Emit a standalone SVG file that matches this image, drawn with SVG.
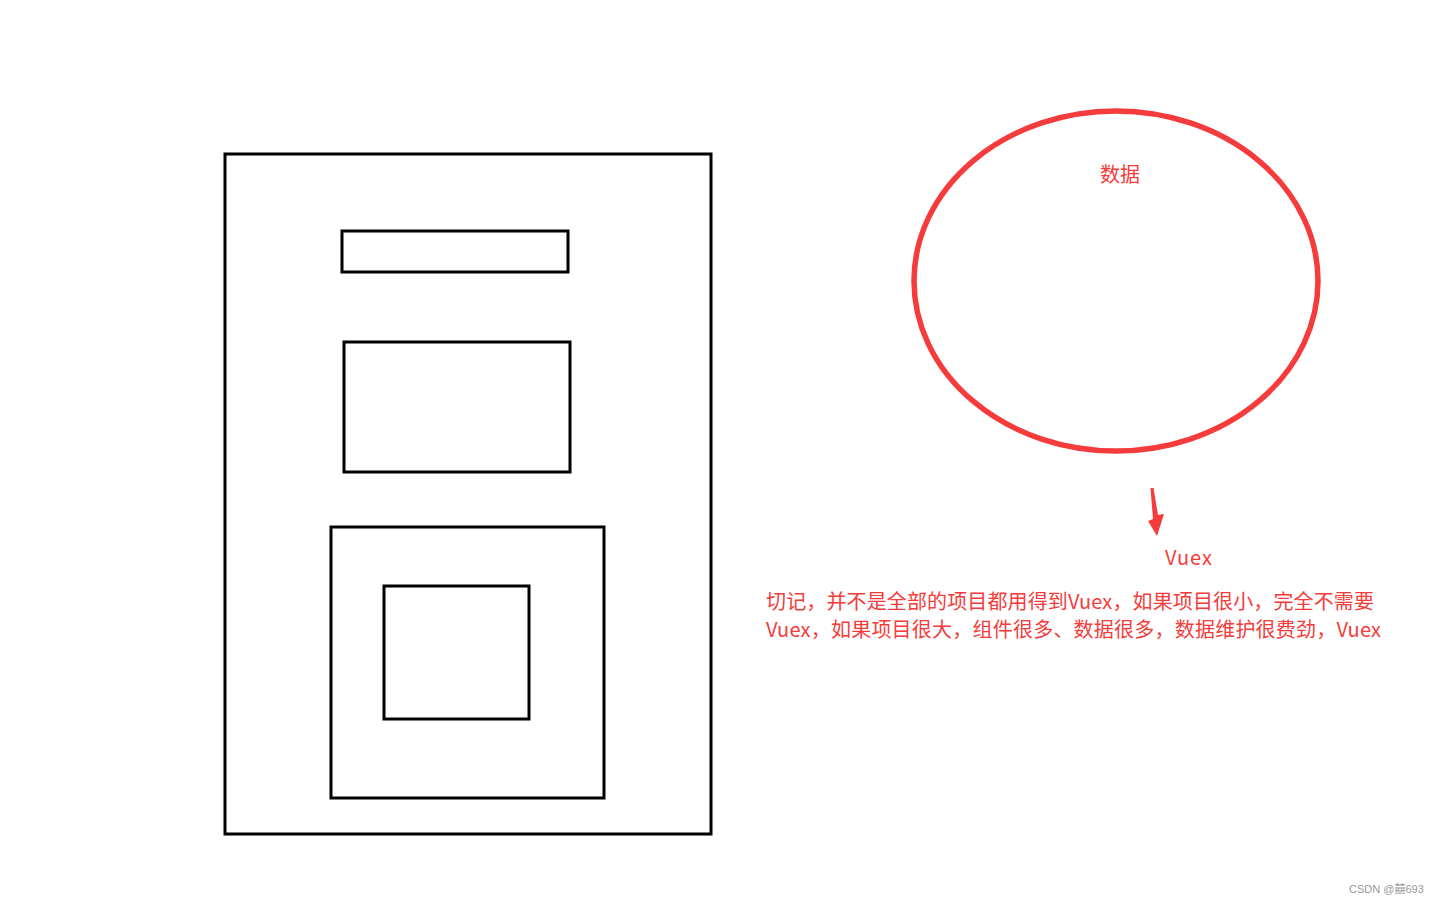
<svg xmlns="http://www.w3.org/2000/svg" width="1441" height="905" viewBox="0 0 1441 905">
<style>
.box{fill:none;stroke:#000;stroke-width:3}
.red{fill:#f53b3b;font-family:"Microsoft YaHei","Noto Sans CJK SC",sans-serif;font-size:20px}
.wm{fill:#999;font-family:"Liberation Sans","Noto Sans CJK SC",sans-serif;font-size:11px}
</style>
<rect width="1441" height="905" fill="#fff"/>
<g id="page"><rect class="box" x="225" y="154" width="486" height="680"/></g>
<g id="box1"><rect class="box" x="342" y="231" width="226" height="41"/></g>
<g id="box2"><rect class="box" x="344" y="342" width="226" height="130"/></g>
<g id="box3"><rect class="box" x="331" y="527" width="273" height="271"/></g>
<g id="box4"><rect class="box" x="384" y="586" width="145" height="133"/></g>
<g id="data">
<ellipse cx="1116" cy="281" rx="202" ry="170" fill="none" stroke="#f53b3b" stroke-width="5.5"/>
<text class="red" x="1120" y="182" text-anchor="middle">数据</text>
</g>
<g id="connectors">
<polygon points="1150.5,488 1153.5,488 1158,515 1164,514 1157,536 1148,521 1153,519" fill="#f53b3b"/>
</g>
<g id="vuex"><text class="red" x="1165" y="565" textLength="47" lengthAdjust="spacing">Vuex</text></g>
<g id="note">
<text class="red" x="766" y="609" textLength="608" lengthAdjust="spacing">切记，并不是全部的项目都用得到Vuex，如果项目很小，完全不需要</text>
<text class="red" x="766" y="637" textLength="615" lengthAdjust="spacing">Vuex，如果项目很大，组件很多、数据很多，数据维护很费劲，Vuex</text>
</g>
<text class="wm" x="1349" y="893">CSDN @囍693</text>
</svg>
